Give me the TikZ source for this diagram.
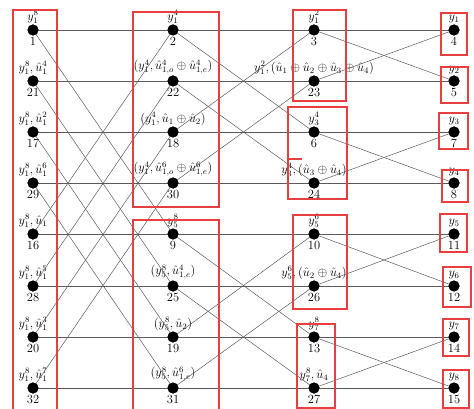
\documentclass[tikz,border=0pt]{standalone}
\usepackage{amsmath}
\definecolor{rb}{RGB}{232,62,62}
\definecolor{wirec}{RGB}{90,90,90}
\begin{document}
\begin{tikzpicture}[x=1pt,y=-1pt,
  dot/.style={circle,fill=black,minimum size=11pt,inner sep=0pt},
  wire/.style={draw=wirec,line width=0.5pt},
  redbox/.style={draw=rb,line width=1.4pt},
  lab/.style={font=\fontsize{12}{14}\selectfont,inner sep=0.8pt,scale=1.04},
  every label/.style={lab}]
\useasboundingbox (0,0) rectangle (474,409);
% column 1
\node[dot,label={above:$y_1^8$},label={below:1}] (a0) at (33,30) {};
\node[dot,label={above:$y_1^8,\hat{u}_1^4$},label={below:21}] (a1) at (33,81) {};
\node[dot,label={above:$y_1^8,\hat{u}_1^2$},label={below:17}] (a2) at (33,132) {};
\node[dot,label={above:$y_1^8,\hat{u}_1^6$},label={below:29}] (a3) at (33,183) {};
\node[dot,label={above:$y_1^8,\hat{u}_1$},label={below:16}] (a4) at (33,234) {};
\node[dot,label={above:$y_1^8,\hat{u}_1^5$},label={below:28}] (a5) at (33,286) {};
\node[dot,label={above:$y_1^8,\hat{u}_1^3$},label={below:20}] (a6) at (33,337) {};
\node[dot,label={above:$y_1^8,\hat{u}_1^7$},label={below:32}] (a7) at (33,388) {};
% column 2
\node[dot,label={above:$y_1^4$},label={below:2}] (b0) at (173,30) {};
\node[dot,label={above:$(y_1^4,\hat{u}_{1,o}^4\oplus\hat{u}_{1,e}^4)$},label={below:22}] (b1) at (173,81) {};
\node[dot,label={above:$(y_1^4,\hat{u}_1\oplus\hat{u}_2)$},label={below:18}] (b2) at (173,132) {};
\node[dot,label={above:$(y_1^4,\hat{u}_{1,o}^6\oplus\hat{u}_{1,e}^6)$},label={below:30}] (b3) at (173,183) {};
\node[dot,label={above:$y_5^8$},label={below:9}] (b4) at (173,234) {};
\node[dot,label={above:$(y_5^8,\hat{u}_{1,e}^4)$},label={below:25}] (b5) at (173,286) {};
\node[dot,label={above:$(y_5^8,\hat{u}_2)$},label={below:19}] (b6) at (173,337) {};
\node[dot,label={above:$(y_5^8,\hat{u}_{1,e}^6)$},label={below:31}] (b7) at (173,388) {};
% column 3
\node[dot,label={above:$y_1^2$},label={below:3}] (c0) at (314,30) {};
\node[dot,label={above:$y_1^2,(\hat{u}_1\oplus\hat{u}_2\oplus\hat{u}_3\oplus\hat{u}_4)$},label={below:23}] (c1) at (314,81) {};
\node[dot,label={above:$y_3^4$},label={below:6}] (c2) at (314,132) {};
\node[dot,label={above:$y_3^4,(\hat{u}_3\oplus\hat{u}_4)$},label={below:24}] (c3) at (314,183) {};
\node[dot,label={above:$y_5^6$},label={below:10}] (c4) at (314,234) {};
\node[dot,label={above:$y_5^6,(\hat{u}_2\oplus\hat{u}_4)$},label={below:26}] (c5) at (314,286) {};
\node[dot,label={above:$y_7^8$},label={below:13}] (c6) at (314,337) {};
\node[dot,label={above:$y_7^8,\hat{u}_4$},label={below:27}] (c7) at (314,388) {};
% column 4
\node[dot,label={above:$y_1$},label={below:4}] (d0) at (454,30) {};
\node[dot,label={above:$y_2$},label={below:5}] (d1) at (454,81) {};
\node[dot,label={above:$y_3$},label={below:7}] (d2) at (454,132) {};
\node[dot,label={above:$y_4$},label={below:8}] (d3) at (454,183) {};
\node[dot,label={above:$y_5$},label={below:11}] (d4) at (454,234) {};
\node[dot,label={above:$y_6$},label={below:12}] (d5) at (454,286) {};
\node[dot,label={above:$y_7$},label={below:14}] (d6) at (454,337) {};
\node[dot,label={above:$y_8$},label={below:15}] (d7) at (454,388) {};
% wires
\foreach \i/\j in {0/4,1/5,2/6,3/7,4/0,5/1,6/2,7/3}{
  \draw[wire] (a\i.center) -- (b\i.center);
  \draw[wire] (a\i.center) -- (b\j.center);
}
\foreach \i/\j in {0/2,1/3,2/0,3/1,4/6,5/7,6/4,7/5}{
  \draw[wire] (b\i.center) -- (c\i.center);
  \draw[wire] (b\i.center) -- (c\j.center);
}
\foreach \i/\j in {0/1,1/0,2/3,3/2,4/5,5/4,6/7,7/6}{
  \draw[wire] (c\i.center) -- (d\i.center);
  \draw[wire] (c\i.center) -- (d\j.center);
}
\foreach \c in {a,b,c,d}{\foreach \r in {0,...,7}{\fill (\c\r) circle (5.5pt);}}
% red boxes
\draw[redbox] (13,412) -- (13,10) -- (57,10) -- (57,412);
\draw[redbox] (133,12) rectangle (219,207);
\draw[redbox] (133,412) -- (133,220) -- (219,220) -- (219,412);
\draw[redbox] (293,10) rectangle (346,101);
\draw[redbox] (288,107) rectangle (347,199);
\draw[redbox] (288,159) -- (302,159);
\draw[redbox] (293,215) rectangle (347,309);
\draw[redbox] (297,324) rectangle (335,408);
\draw[redbox] (441,13) rectangle (467,55);
\draw[redbox] (441,67) rectangle (468,103);
\draw[redbox] (439,113) rectangle (468,149);
\draw[redbox] (442,170) rectangle (468,202);
\draw[redbox] (440,214) rectangle (467,252);
\draw[redbox] (443,267) rectangle (471,307);
\draw[redbox] (443,319) rectangle (469,356);
\draw[redbox] (443,370) rectangle (469,408);
\end{tikzpicture}
\end{document}
